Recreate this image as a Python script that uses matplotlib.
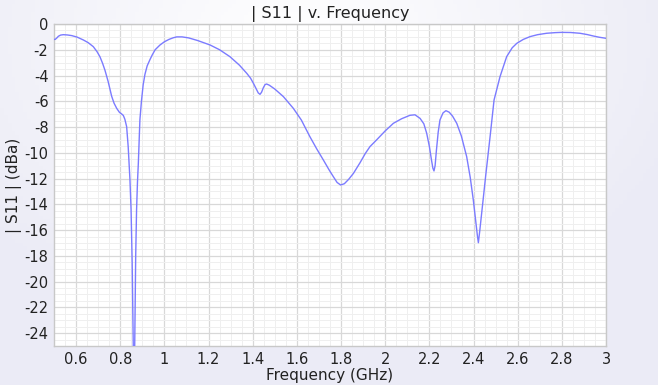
import numpy as np
import matplotlib
matplotlib.use("Agg")
import matplotlib.pyplot as plt
from matplotlib.ticker import MultipleLocator

freq_ghz = [0.500, 0.505, 0.512, 0.520, 0.530, 0.542, 0.560, 0.580, 0.605, 0.633, 0.655,
            0.678, 0.695, 0.708, 0.720, 0.731, 0.745, 0.761, 0.772, 0.784, 0.796, 0.806,
            0.814, 0.821, 0.829, 0.836, 0.844, 0.849, 0.854, 0.859, 0.862, 0.8655, 0.870,
            0.874, 0.878, 0.882, 0.889, 0.896, 0.904, 0.912, 0.922, 0.935, 0.945, 0.958,
            0.980, 1.000, 1.020, 1.040, 1.056, 1.080, 1.110, 1.150, 1.207, 1.250, 1.297,
            1.340, 1.373, 1.390, 1.403, 1.415, 1.425, 1.433, 1.440, 1.448, 1.456, 1.463,
            1.475, 1.500, 1.539, 1.584, 1.620, 1.659, 1.690, 1.720, 1.745, 1.765, 1.782,
            1.798, 1.815, 1.835, 1.856, 1.886, 1.910, 1.931, 1.961, 2.000, 2.037, 2.075,
            2.112, 2.135, 2.158, 2.175, 2.188, 2.200, 2.210, 2.216, 2.221, 2.226, 2.232,
            2.240, 2.248, 2.262, 2.275, 2.290, 2.305, 2.324, 2.345, 2.369, 2.385, 2.399,
            2.410, 2.418, 2.422, 2.428, 2.436, 2.445, 2.455, 2.465, 2.475, 2.493, 2.520,
            2.550, 2.575, 2.596, 2.625, 2.656, 2.690, 2.731, 2.770, 2.799, 2.840, 2.882,
            2.915, 2.942, 2.970, 3.000]
s11_db = [-1.19, -1.20, -1.10, -0.95, -0.86, -0.83, -0.85, -0.90, -1.02, -1.24, -1.45,
          -1.76, -2.15, -2.54, -3.05, -3.60, -4.45, -5.60, -6.15, -6.55, -6.85, -6.98,
          -7.10, -7.40, -7.97, -9.53, -12.1, -14.4, -18.5, -25.0, -32.0, -25.0, -18.0,
          -14.4, -12.3, -10.8, -7.45, -6.00, -4.70, -3.90, -3.25, -2.75, -2.40, -2.00,
          -1.63, -1.38, -1.20, -1.07, -1.00, -1.00, -1.08, -1.28, -1.63, -2.00, -2.54,
          -3.20, -3.83, -4.20, -4.60, -5.00, -5.35, -5.46, -5.30, -4.95, -4.70, -4.66,
          -4.75, -5.05, -5.64, -6.55, -7.45, -8.75, -9.70, -10.56, -11.30, -11.85, -12.30,
          -12.50, -12.40, -12.05, -11.60, -10.77, -10.05, -9.52, -9.00, -8.30, -7.71, -7.35,
          -7.09, -7.05, -7.33, -7.75, -8.49, -9.50, -10.60, -11.20, -11.41, -11.00, -9.80,
          -8.40, -7.45, -6.90, -6.73, -6.85, -7.15, -7.71, -8.70, -10.30, -11.90, -13.66,
          -15.30, -16.50, -16.98, -16.10, -14.80, -13.40, -11.80, -10.30, -8.75, -5.90, -4.09,
          -2.54, -1.85, -1.50, -1.20, -0.98, -0.83, -0.72, -0.67, -0.65, -0.66, -0.72,
          -0.82, -0.93, -1.03, -1.11]
x_ticks = [0.6, 0.8, 1.0, 1.2, 1.4, 1.6, 1.8, 2.0, 2.2, 2.4, 2.6, 2.8, 3.0]
x_tick_labels = ["0.6", "0.8", "1", "1.2", "1.4", "1.6", "1.8", "2", "2.2", "2.4", "2.6", "2.8", "3"]
y_ticks = [0, -2, -4, -6, -8, -10, -12, -14, -16, -18, -20, -22, -24]
y_tick_labels = [str(v) for v in y_ticks]

plt.rcParams['font.family'] = ['DejaVu Sans']
fig = plt.figure(figsize=(6.58, 3.85), dpi=100)

# background gradient
bg = fig.add_axes([0, 0, 1, 1], zorder=-10)
h, w = 100, 170
yy, xx = np.mgrid[0:h, 0:w]
d = np.sqrt(((xx - w * 0.45) / w) ** 2 + ((yy - h * 0.1) / h * 0.8) ** 2)
t = np.clip(d / 0.6, 0, 1)
c0 = np.array([1.0, 1.0, 1.0])
c1 = np.array([0.925, 0.925, 0.965])
img = c0[None, None, :] * (1 - t[..., None]) + c1[None, None, :] * t[..., None]
bg.imshow(img, aspect='auto', extent=[0, 1, 0, 1], origin='upper')
bg.axis('off')

ax = fig.add_axes([54 / 658, 1 - 346 / 385, 552 / 658, 322 / 385])
ax.set_facecolor('white')
ax.plot(freq_ghz, s11_db, color='#7b7bff', lw=1.0, zorder=3)
ax.set_xlim(0.5, 3.0)
ax.set_ylim(-25, 0)
ax.set_xticks(x_ticks)
ax.set_xticklabels(x_tick_labels)
ax.set_yticks(y_ticks)
ax.set_yticklabels(y_tick_labels)
ax.xaxis.set_minor_locator(MultipleLocator(0.05))
ax.yaxis.set_minor_locator(MultipleLocator(0.5))
ax.grid(which='major', color='#d8d8d8', lw=0.9, zorder=0)
ax.grid(which='minor', color='#efefef', lw=0.7, zorder=0)
ax.set_axisbelow(True)
ax.tick_params(which='both', length=0, labelsize=10.5, colors='#222222', pad=4)
for s in ax.spines.values():
    s.set_color('#c8c8c8')
    s.set_linewidth(1.0)
ax.set_title('| S11 | v. Frequency', fontsize=11.5, color='#222222', pad=4)
ax.set_xlabel('Frequency (GHz)', fontsize=11, color='#222222', labelpad=1)
ax.set_ylabel('| S11 | (dBa)', fontsize=11, color='#222222', labelpad=2)

fig.savefig('out.png', dpi=100)
